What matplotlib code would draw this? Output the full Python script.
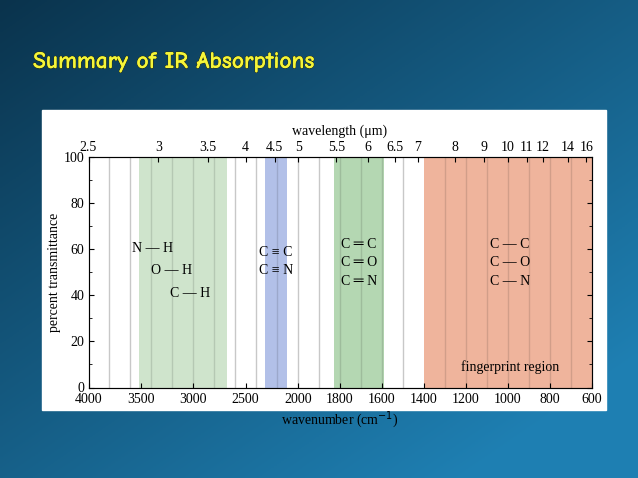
import numpy as np
import matplotlib
matplotlib.use("Agg")
import matplotlib.pyplot as plt
from matplotlib.ticker import FixedLocator, MultipleLocator
import matplotlib.patheffects as pe

bottom_ticks = [4000, 3500, 3000, 2500, 2000, 1800, 1600, 1400, 1200, 1000, 800, 600]
top_ticks_um = [2.5, 3, 3.5, 4, 4.5, 5, 5.5, 6, 6.5, 7, 8, 9, 10, 11, 12, 14, 16]
grid_lines = [3800, 3600, 3400, 3200, 3000, 2800, 2600, 2400, 2200, 2000,
              1900, 1800, 1700, 1600, 1500, 1300, 1200, 1100, 1000, 900, 800, 700]
bands = [(3520, 2680, "#cfe4cc"), (2320, 2110, "#b2c0e8"),
         (1830, 1590, "#b4d7b2"), (1400, 600, "#efb49c")]
labels = [("N — H", 3390, 60), ("O — H", 3210, 50.5), ("C — H", 3030, 40.5),
          ("C ≡ C", 2210, 58.5), ("C ≡ N", 2210, 50.5),
          ("C ═ C", 1710, 62), ("C ═ O", 1710, 54), ("C ═ N", 1710, 46),
          ("C — C", 990, 62), ("C — O", 990, 54), ("C — N", 990, 46),
          ("fingerprint region", 990, 9)]

def fwd(w):
    w = np.asarray(w, float)
    return np.where(w >= 2000, 1000 + (w - 2000) / 2, w - 1000)

def inv(p):
    p = np.asarray(p, float)
    return np.where(p >= 1000, 2000 + 2 * (p - 1000), p + 1000)

plt.rcParams['font.family'] = ['Liberation Serif', 'DejaVu Serif']
fig = plt.figure(figsize=(6.38, 4.78), dpi=100)

bg = fig.add_axes([0, 0, 1, 1])
yy, xx = np.mgrid[0:1:200j, 0:1:200j]
t = np.clip(0.55 * xx + 0.6 * (1 - yy), 0, 1)
c0 = np.array([0.04, 0.20, 0.30]); c1 = np.array([0.12, 0.50, 0.70])
img = c0[None, None, :] * (1 - t[..., None]) + c1[None, None, :] * t[..., None]
bg.imshow(img, extent=[0, 1, 0, 1], aspect='auto', origin='lower')
bg.axis('off')
bg.add_patch(plt.Rectangle((42/638, 1-410/478), 564/638, 300/478, color='white', transform=bg.transAxes))
title = bg.text(33/638, 1-62/478, "Summary of IR Absorptions", color="#f5f53a", fontsize=17,
                fontweight='bold', family=['Comic Neue', 'DejaVu Sans'], va='center',
                transform=bg.transAxes)
title.set_path_effects([pe.SimpleLineShadow(offset=(2, -2), shadow_color='k', alpha=0.9),
                        pe.withStroke(linewidth=0.8, foreground='#333300'), pe.Normal()])

ax = fig.add_axes([88.5/638, 1-387.5/478, 503/638, 231/478])
ax.set_xscale('function', functions=(fwd, inv))
ax.set_xlim(4000, 600)
ax.set_ylim(0, 100)
for w in grid_lines:
    ax.axvline(w, color='#c8c8c8', lw=1, zorder=0)
for a, b, c in bands:
    ax.axvspan(b, a, color=c, lw=0, zorder=1)
for w in grid_lines:
    if 3520 > w > 2680 or 1830 > w > 1590 or w < 1400 or 2320 > w > 2110:
        ax.axvline(w, color='#000000', alpha=0.12, lw=1, zorder=2)
for s, x, y in labels:
    ax.text(x, y, s, ha='center', va='center', fontsize=10, zorder=3)

ax.xaxis.set_major_locator(FixedLocator(bottom_ticks))
ax.set_xticklabels([str(v) for v in bottom_ticks])
ax.xaxis.set_minor_locator(FixedLocator([]))
ax.yaxis.set_major_locator(MultipleLocator(20))
ax.yaxis.set_minor_locator(MultipleLocator(10))
ax.tick_params(direction='in', which='both', labelsize=10, right=True, top=False)
ax.tick_params(axis='x', pad=4)
ax.tick_params(axis='y', pad=3)
ax.set_xlabel("wavenumber (cm$^{-1}$)", fontsize=10, labelpad=2)
ax.set_ylabel("percent transmittance", fontsize=10, labelpad=2)
for sp in ax.spines.values():
    sp.set_color('#555555')

top = ax.twiny()
top.set_xscale('function', functions=(fwd, inv))
top.set_xlim(4000, 600)
top.xaxis.set_major_locator(FixedLocator([10000 / u for u in top_ticks_um]))
top.set_xticklabels([f"{u:g}" for u in top_ticks_um])
top.xaxis.set_minor_locator(FixedLocator([]))
top.tick_params(direction='in', labelsize=10, pad=2)
top.set_xlabel("wavelength (μm)", fontsize=10, labelpad=4)

fig.savefig("out.png", dpi=100)
